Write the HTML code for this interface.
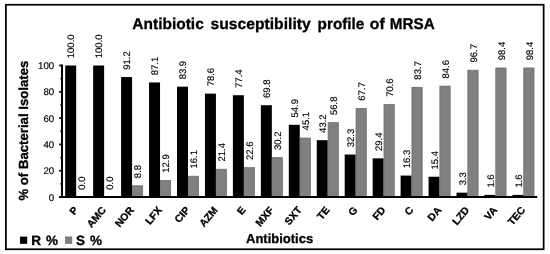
<!DOCTYPE html><html><head><meta charset="utf-8"><style>html,body{margin:0;padding:0;background:#fff}svg{display:block}text{font-family:"Liberation Sans",Arial,sans-serif;text-rendering:geometricPrecision}</style></head><body>
<svg width="550" height="254" viewBox="0 0 550 254">
<rect x="0" y="0" width="550" height="254" fill="#fff"/>
<rect x="5.9" y="4.75" width="537.75" height="244.5" fill="none" stroke="#000" stroke-width="1.75"/>
<text font-size="15.5" font-weight="bold" stroke="#000" stroke-width="0.3" transform="translate(132.32,29.2) scale(0.9997,1)">Antibiotic</text>
<text font-size="15.5" font-weight="bold" stroke="#000" stroke-width="0.3" transform="translate(210.47,29.2) scale(1.0116,1)">susceptibility</text>
<text font-size="15.5" font-weight="bold" stroke="#000" stroke-width="0.3" transform="translate(317.61,29.2) scale(0.9852,1)">profile</text>
<text font-size="15.5" font-weight="bold" stroke="#000" stroke-width="0.3" transform="translate(369.87,29.2) scale(1.0143,1)">of</text>
<text font-size="15.5" font-weight="bold" stroke="#000" stroke-width="0.3" transform="translate(389.81,29.2) scale(0.9853,1)">MRSA</text>
<rect x="65.2" y="65.5" width="10.98" height="131.5" fill="#000"/>
<text font-size="9.5" stroke="#000" stroke-width="0.15" transform="translate(74.39,58.2) rotate(-90)">100.0</text>
<text font-size="9.5" stroke="#000" stroke-width="0.15" transform="translate(85.37,189.7) rotate(-90)">0.0</text>
<rect x="93.15" y="65.5" width="10.98" height="131.5" fill="#000"/>
<text font-size="9.5" stroke="#000" stroke-width="0.15" transform="translate(102.34,58.2) rotate(-90)">100.0</text>
<text font-size="9.5" stroke="#000" stroke-width="0.15" transform="translate(113.32,189.7) rotate(-90)">0.0</text>
<rect x="121.1" y="77.07" width="10.98" height="119.93" fill="#000"/>
<text font-size="9.5" stroke="#000" stroke-width="0.15" transform="translate(130.29,69.77) rotate(-90)">91.2</text>
<rect x="132.43" y="185.78" width="10.28" height="11.22" fill="#808080" stroke="#666" stroke-width="0.7"/>
<text font-size="9.5" stroke="#000" stroke-width="0.15" transform="translate(141.27,178.13) rotate(-90)">8.8</text>
<rect x="149.05" y="82.46" width="10.98" height="114.54" fill="#000"/>
<text font-size="9.5" stroke="#000" stroke-width="0.15" transform="translate(158.24,75.16) rotate(-90)">87.1</text>
<rect x="160.38" y="180.39" width="10.28" height="16.61" fill="#808080" stroke="#666" stroke-width="0.7"/>
<text font-size="9.5" stroke="#000" stroke-width="0.15" transform="translate(169.22,172.74) rotate(-90)">12.9</text>
<rect x="177" y="86.67" width="10.98" height="110.33" fill="#000"/>
<text font-size="9.5" stroke="#000" stroke-width="0.15" transform="translate(186.19,79.37) rotate(-90)">83.9</text>
<rect x="188.33" y="176.18" width="10.28" height="20.82" fill="#808080" stroke="#666" stroke-width="0.7"/>
<text font-size="9.5" stroke="#000" stroke-width="0.15" transform="translate(197.17,168.53) rotate(-90)">16.1</text>
<rect x="204.95" y="93.64" width="10.98" height="103.36" fill="#000"/>
<text font-size="9.5" stroke="#000" stroke-width="0.15" transform="translate(214.14,86.34) rotate(-90)">78.6</text>
<rect x="216.28" y="169.21" width="10.28" height="27.79" fill="#808080" stroke="#666" stroke-width="0.7"/>
<text font-size="9.5" stroke="#000" stroke-width="0.15" transform="translate(225.12,161.56) rotate(-90)">21.4</text>
<rect x="232.9" y="95.22" width="10.98" height="101.78" fill="#000"/>
<text font-size="9.5" stroke="#000" stroke-width="0.15" transform="translate(242.09,87.92) rotate(-90)">77.4</text>
<rect x="244.23" y="167.63" width="10.28" height="29.37" fill="#808080" stroke="#666" stroke-width="0.7"/>
<text font-size="9.5" stroke="#000" stroke-width="0.15" transform="translate(253.07,159.98) rotate(-90)">22.6</text>
<rect x="260.85" y="105.21" width="10.98" height="91.79" fill="#000"/>
<text font-size="9.5" stroke="#000" stroke-width="0.15" transform="translate(270.04,97.91) rotate(-90)">69.8</text>
<rect x="272.18" y="157.64" width="10.28" height="39.36" fill="#808080" stroke="#666" stroke-width="0.7"/>
<text font-size="9.5" stroke="#000" stroke-width="0.15" transform="translate(281.02,149.99) rotate(-90)">30.2</text>
<rect x="288.8" y="124.81" width="10.98" height="72.19" fill="#000"/>
<text font-size="9.5" stroke="#000" stroke-width="0.15" transform="translate(297.99,117.51) rotate(-90)">54.9</text>
<rect x="300.13" y="138.04" width="10.28" height="58.96" fill="#808080" stroke="#666" stroke-width="0.7"/>
<text font-size="9.5" stroke="#000" stroke-width="0.15" transform="translate(308.97,130.39) rotate(-90)">45.1</text>
<rect x="316.75" y="140.19" width="10.98" height="56.81" fill="#000"/>
<text font-size="9.5" stroke="#000" stroke-width="0.15" transform="translate(325.94,132.89) rotate(-90)">43.2</text>
<rect x="328.08" y="122.66" width="10.28" height="74.34" fill="#808080" stroke="#666" stroke-width="0.7"/>
<text font-size="9.5" stroke="#000" stroke-width="0.15" transform="translate(336.92,115.01) rotate(-90)">56.8</text>
<rect x="344.7" y="154.53" width="10.98" height="42.47" fill="#000"/>
<text font-size="9.5" stroke="#000" stroke-width="0.15" transform="translate(353.89,147.23) rotate(-90)">32.3</text>
<rect x="356.03" y="108.32" width="10.28" height="88.68" fill="#808080" stroke="#666" stroke-width="0.7"/>
<text font-size="9.5" stroke="#000" stroke-width="0.15" transform="translate(364.87,100.67) rotate(-90)">67.7</text>
<rect x="372.65" y="158.34" width="10.98" height="38.66" fill="#000"/>
<text font-size="9.5" stroke="#000" stroke-width="0.15" transform="translate(381.84,151.04) rotate(-90)">29.4</text>
<rect x="383.98" y="104.51" width="10.28" height="92.49" fill="#808080" stroke="#666" stroke-width="0.7"/>
<text font-size="9.5" stroke="#000" stroke-width="0.15" transform="translate(392.82,96.86) rotate(-90)">70.6</text>
<rect x="400.6" y="175.57" width="10.98" height="21.43" fill="#000"/>
<text font-size="9.5" stroke="#000" stroke-width="0.15" transform="translate(409.79,168.27) rotate(-90)">16.3</text>
<rect x="411.93" y="87.28" width="10.28" height="109.72" fill="#808080" stroke="#666" stroke-width="0.7"/>
<text font-size="9.5" stroke="#000" stroke-width="0.15" transform="translate(420.77,79.63) rotate(-90)">83.7</text>
<rect x="428.55" y="176.75" width="10.98" height="20.25" fill="#000"/>
<text font-size="9.5" stroke="#000" stroke-width="0.15" transform="translate(437.74,169.45) rotate(-90)">15.4</text>
<rect x="439.88" y="86.1" width="10.28" height="110.9" fill="#808080" stroke="#666" stroke-width="0.7"/>
<text font-size="9.5" stroke="#000" stroke-width="0.15" transform="translate(448.72,78.45) rotate(-90)">84.6</text>
<rect x="456.5" y="192.66" width="10.98" height="4.34" fill="#000"/>
<text font-size="9.5" stroke="#000" stroke-width="0.15" transform="translate(465.69,185.36) rotate(-90)">3.3</text>
<rect x="467.83" y="70.19" width="10.28" height="126.81" fill="#808080" stroke="#666" stroke-width="0.7"/>
<text font-size="9.5" stroke="#000" stroke-width="0.15" transform="translate(476.67,62.54) rotate(-90)">96.7</text>
<rect x="484.45" y="194.9" width="10.98" height="2.1" fill="#000"/>
<text font-size="9.5" stroke="#000" stroke-width="0.15" transform="translate(493.64,187.6) rotate(-90)">1.6</text>
<rect x="495.78" y="67.95" width="10.28" height="129.05" fill="#808080" stroke="#666" stroke-width="0.7"/>
<text font-size="9.5" stroke="#000" stroke-width="0.15" transform="translate(504.62,60.3) rotate(-90)">98.4</text>
<rect x="512.4" y="194.9" width="10.98" height="2.1" fill="#000"/>
<text font-size="9.5" stroke="#000" stroke-width="0.15" transform="translate(521.59,187.6) rotate(-90)">1.6</text>
<rect x="523.73" y="67.95" width="10.28" height="129.05" fill="#808080" stroke="#666" stroke-width="0.7"/>
<text font-size="9.5" stroke="#000" stroke-width="0.15" transform="translate(532.57,60.3) rotate(-90)">98.4</text>
<line x1="62" y1="64.6" x2="62" y2="197" stroke="#000" stroke-width="2"/>
<line x1="59.2" y1="197" x2="537.15" y2="197" stroke="#000" stroke-width="2"/>
<line x1="59.2" y1="197" x2="62" y2="197" stroke="#000" stroke-width="1.8"/>
<text x="54.2" y="200.5" font-size="9.7" stroke="#000" stroke-width="0.15" text-anchor="end">0</text>
<line x1="60.4" y1="183.85" x2="62" y2="183.85" stroke="#000" stroke-width="1.8"/>
<line x1="59.2" y1="170.7" x2="62" y2="170.7" stroke="#000" stroke-width="1.8"/>
<text x="54.2" y="174.2" font-size="9.7" stroke="#000" stroke-width="0.15" text-anchor="end">20</text>
<line x1="60.4" y1="157.55" x2="62" y2="157.55" stroke="#000" stroke-width="1.8"/>
<line x1="59.2" y1="144.4" x2="62" y2="144.4" stroke="#000" stroke-width="1.8"/>
<text x="54.2" y="147.9" font-size="9.7" stroke="#000" stroke-width="0.15" text-anchor="end">40</text>
<line x1="60.4" y1="131.25" x2="62" y2="131.25" stroke="#000" stroke-width="1.8"/>
<line x1="59.2" y1="118.1" x2="62" y2="118.1" stroke="#000" stroke-width="1.8"/>
<text x="54.2" y="121.6" font-size="9.7" stroke="#000" stroke-width="0.15" text-anchor="end">60</text>
<line x1="60.4" y1="104.95" x2="62" y2="104.95" stroke="#000" stroke-width="1.8"/>
<line x1="59.2" y1="91.8" x2="62" y2="91.8" stroke="#000" stroke-width="1.8"/>
<text x="54.2" y="95.3" font-size="9.7" stroke="#000" stroke-width="0.15" text-anchor="end">80</text>
<line x1="60.4" y1="78.65" x2="62" y2="78.65" stroke="#000" stroke-width="1.8"/>
<line x1="59.2" y1="65.5" x2="62" y2="65.5" stroke="#000" stroke-width="1.8"/>
<text x="54.2" y="69" font-size="9.7" stroke="#000" stroke-width="0.15" text-anchor="end">100</text>
<text font-size="13.2" font-weight="bold" stroke="#000" stroke-width="0.3" transform="translate(27.6,200.6) rotate(-90)">% of Bacterial Isolates</text>
<text font-size="10.3" font-weight="bold" stroke="#000" stroke-width="0.3" text-anchor="end" transform="translate(78.57,210.3) rotate(-50)">P</text>
<text font-size="10.3" font-weight="bold" stroke="#000" stroke-width="0.3" text-anchor="end" transform="translate(106.52,210.3) rotate(-50)">AMC</text>
<text font-size="10.3" font-weight="bold" stroke="#000" stroke-width="0.3" text-anchor="end" transform="translate(134.47,210.3) rotate(-50)">NOR</text>
<text font-size="10.3" font-weight="bold" stroke="#000" stroke-width="0.3" text-anchor="end" transform="translate(162.42,210.3) rotate(-50)">LFX</text>
<text font-size="10.3" font-weight="bold" stroke="#000" stroke-width="0.3" text-anchor="end" transform="translate(190.37,210.3) rotate(-50)">CIP</text>
<text font-size="10.3" font-weight="bold" stroke="#000" stroke-width="0.3" text-anchor="end" transform="translate(218.32,210.3) rotate(-50)">AZM</text>
<text font-size="10.3" font-weight="bold" stroke="#000" stroke-width="0.3" text-anchor="end" transform="translate(246.27,210.3) rotate(-50)">E</text>
<text font-size="10.3" font-weight="bold" stroke="#000" stroke-width="0.3" text-anchor="end" transform="translate(274.23,210.3) rotate(-50)">MXF</text>
<text font-size="10.3" font-weight="bold" stroke="#000" stroke-width="0.3" text-anchor="end" transform="translate(302.18,210.3) rotate(-50)">SXT</text>
<text font-size="10.3" font-weight="bold" stroke="#000" stroke-width="0.3" text-anchor="end" transform="translate(330.12,210.3) rotate(-50)">TE</text>
<text font-size="10.3" font-weight="bold" stroke="#000" stroke-width="0.3" text-anchor="end" transform="translate(358.07,210.3) rotate(-50)">G</text>
<text font-size="10.3" font-weight="bold" stroke="#000" stroke-width="0.3" text-anchor="end" transform="translate(386.03,210.3) rotate(-50)">FD</text>
<text font-size="10.3" font-weight="bold" stroke="#000" stroke-width="0.3" text-anchor="end" transform="translate(413.98,210.3) rotate(-50)">C</text>
<text font-size="10.3" font-weight="bold" stroke="#000" stroke-width="0.3" text-anchor="end" transform="translate(441.93,210.3) rotate(-50)">DA</text>
<text font-size="10.3" font-weight="bold" stroke="#000" stroke-width="0.3" text-anchor="end" transform="translate(469.88,210.3) rotate(-50)">LZD</text>
<text font-size="10.3" font-weight="bold" stroke="#000" stroke-width="0.3" text-anchor="end" transform="translate(497.82,210.3) rotate(-50)">VA</text>
<text font-size="10.3" font-weight="bold" stroke="#000" stroke-width="0.3" text-anchor="end" transform="translate(525.77,210.3) rotate(-50)">TEC</text>
<text x="246.0" y="243" font-size="13" font-weight="bold" stroke="#000" stroke-width="0.3">Antibiotics</text>
<rect x="20" y="236.6" width="7.2" height="7.2" fill="#000"/>
<text y="244.5" font-size="13.5" font-weight="bold" stroke="#000" stroke-width="0.3"><tspan x="31.3">R </tspan><tspan x="46.0">%</tspan></text>
<rect x="65.3" y="236.9" width="6.6" height="6.6" fill="#808080" stroke="#666" stroke-width="0.6"/>
<text y="244.5" font-size="13.5" font-weight="bold" stroke="#000" stroke-width="0.3"><tspan x="76.1">S </tspan><tspan x="89.9">%</tspan></text>
</svg></body></html>
